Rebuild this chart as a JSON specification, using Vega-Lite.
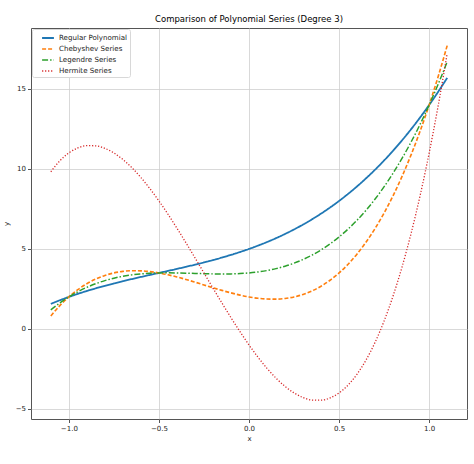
{
  "$schema": "https://vega.github.io/schema/vega-lite/v6.json",
  "width": 436,
  "height": 391,
  "autosize": {"type": "none"},
  "padding": {"left": 31, "top": 28, "right": 7, "bottom": 45},
  "background": "white",
  "title": {
    "text": "Comparison of Polynomial Series (Degree 3)",
    "font": "DejaVu Sans",
    "fontSize": 8.5,
    "fontWeight": "normal",
    "color": "#000000",
    "anchor": "middle",
    "offset": 5
  },
  "config": {
    "view": {"stroke": "#555555", "strokeWidth": 1},
    "axis": {
      "labelFont": "DejaVu Sans",
      "labelFontSize": 7,
      "labelColor": "#222222",
      "titleFont": "DejaVu Sans",
      "titleFontSize": 7,
      "titleFontWeight": "normal",
      "titleColor": "#222222",
      "domain": false,
      "tickColor": "#555555",
      "tickSize": 3.5,
      "labelPadding": 2,
      "grid": true,
      "gridColor": "#cfcfcf",
      "gridWidth": 0.8
    }
  },
  "data": {
    "values": [
      {"x": -1.10, "reg": 1.568, "cheb": 0.812, "leg": 1.190, "herm": 9.824},
      {"x": -1.05, "reg": 1.792, "cheb": 1.454, "leg": 1.623, "herm": 10.508},
      {"x": -1.00, "reg": 2.000, "cheb": 2.000, "leg": 2.000, "herm": 11.000},
      {"x": -0.95, "reg": 2.193, "cheb": 2.456, "leg": 2.324, "herm": 11.312},
      {"x": -0.90, "reg": 2.372, "cheb": 2.828, "leg": 2.600, "herm": 11.456},
      {"x": -0.85, "reg": 2.539, "cheb": 3.122, "leg": 2.831, "herm": 11.444},
      {"x": -0.80, "reg": 2.696, "cheb": 3.344, "leg": 3.020, "herm": 11.288},
      {"x": -0.75, "reg": 2.844, "cheb": 3.500, "leg": 3.172, "herm": 11.000},
      {"x": -0.70, "reg": 2.984, "cheb": 3.596, "leg": 3.290, "herm": 10.592},
      {"x": -0.65, "reg": 3.118, "cheb": 3.638, "leg": 3.378, "herm": 10.076},
      {"x": -0.60, "reg": 3.248, "cheb": 3.632, "leg": 3.440, "herm": 9.464},
      {"x": -0.55, "reg": 3.375, "cheb": 3.584, "leg": 3.479, "herm": 8.768},
      {"x": -0.50, "reg": 3.500, "cheb": 3.500, "leg": 3.500, "herm": 8.000},
      {"x": -0.45, "reg": 3.625, "cheb": 3.386, "leg": 3.506, "herm": 7.172},
      {"x": -0.40, "reg": 3.752, "cheb": 3.248, "leg": 3.500, "herm": 6.296},
      {"x": -0.35, "reg": 3.882, "cheb": 3.092, "leg": 3.487, "herm": 5.384},
      {"x": -0.30, "reg": 4.016, "cheb": 2.924, "leg": 3.470, "herm": 4.448},
      {"x": -0.25, "reg": 4.156, "cheb": 2.750, "leg": 3.453, "herm": 3.500},
      {"x": -0.20, "reg": 4.304, "cheb": 2.576, "leg": 3.440, "herm": 2.552},
      {"x": -0.15, "reg": 4.461, "cheb": 2.408, "leg": 3.434, "herm": 1.616},
      {"x": -0.10, "reg": 4.628, "cheb": 2.252, "leg": 3.440, "herm": 0.704},
      {"x": -0.05, "reg": 4.807, "cheb": 2.114, "leg": 3.461, "herm": -0.172},
      {"x": 0.00, "reg": 5.000, "cheb": 2.000, "leg": 3.500, "herm": -1.000},
      {"x": 0.05, "reg": 5.208, "cheb": 1.916, "leg": 3.562, "herm": -1.768},
      {"x": 0.10, "reg": 5.432, "cheb": 1.868, "leg": 3.650, "herm": -2.464},
      {"x": 0.15, "reg": 5.674, "cheb": 1.862, "leg": 3.768, "herm": -3.076},
      {"x": 0.20, "reg": 5.936, "cheb": 1.904, "leg": 3.920, "herm": -3.592},
      {"x": 0.25, "reg": 6.219, "cheb": 2.000, "leg": 4.109, "herm": -4.000},
      {"x": 0.30, "reg": 6.524, "cheb": 2.156, "leg": 4.340, "herm": -4.288},
      {"x": 0.35, "reg": 6.853, "cheb": 2.378, "leg": 4.616, "herm": -4.444},
      {"x": 0.40, "reg": 7.208, "cheb": 2.672, "leg": 4.940, "herm": -4.456},
      {"x": 0.45, "reg": 7.590, "cheb": 3.044, "leg": 5.317, "herm": -4.312},
      {"x": 0.50, "reg": 8.000, "cheb": 3.500, "leg": 5.750, "herm": -4.000},
      {"x": 0.55, "reg": 8.440, "cheb": 4.046, "leg": 6.243, "herm": -3.508},
      {"x": 0.60, "reg": 8.912, "cheb": 4.688, "leg": 6.800, "herm": -2.824},
      {"x": 0.65, "reg": 9.417, "cheb": 5.432, "leg": 7.424, "herm": -1.936},
      {"x": 0.70, "reg": 9.956, "cheb": 6.284, "leg": 8.120, "herm": -0.832},
      {"x": 0.75, "reg": 10.531, "cheb": 7.250, "leg": 8.891, "herm": 0.500},
      {"x": 0.80, "reg": 11.144, "cheb": 8.336, "leg": 9.740, "herm": 2.072},
      {"x": 0.85, "reg": 11.796, "cheb": 9.548, "leg": 10.672, "herm": 3.896},
      {"x": 0.90, "reg": 12.488, "cheb": 10.892, "leg": 11.690, "herm": 5.984},
      {"x": 0.95, "reg": 13.222, "cheb": 12.374, "leg": 12.798, "herm": 8.348},
      {"x": 1.00, "reg": 14.000, "cheb": 14.000, "leg": 14.000, "herm": 11.000},
      {"x": 1.05, "reg": 14.823, "cheb": 15.776, "leg": 15.299, "herm": 13.952},
      {"x": 1.10, "reg": 15.692, "cheb": 17.708, "leg": 16.700, "herm": 17.216}
    ]
  },
  "transform": [
    {"fold": ["reg", "cheb", "leg", "herm"], "as": ["series", "y"]}
  ],
  "mark": {"type": "line", "interpolate": "monotone", "clip": true},
  "encoding": {
    "x": {
      "field": "x",
      "type": "quantitative",
      "title": "x",
      "scale": {"domain": [-1.21, 1.21], "nice": false, "zero": false},
      "axis": {"values": [-1, -0.5, 0, 0.5, 1], "format": ".1f", "titlePadding": 3}
    },
    "y": {
      "field": "y",
      "type": "quantitative",
      "title": "y",
      "scale": {"domain": [-5.63, 18.81], "nice": false, "zero": false},
      "axis": {"values": [-5, 0, 5, 10, 15], "titlePadding": 6}
    },
    "color": {
      "field": "series",
      "type": "nominal",
      "scale": {
        "domain": ["reg", "cheb", "leg", "herm"],
        "range": ["#1f77b4", "#ff7f0e", "#2ca02c", "#d62728"]
      },
      "legend": {
        "title": null,
        "orient": "none",
        "legendX": 1,
        "legendY": 1,
        "labelExpr": "{'reg': 'Regular Polynomial', 'cheb': 'Chebyshev Series', 'leg': 'Legendre Series', 'herm': 'Hermite Series'}[datum.value]",
        "labelFont": "DejaVu Sans",
        "labelFontSize": 7.1,
        "labelColor": "#222222",
        "symbolType": "stroke",
        "symbolSize": 140,
        "symbolOffset": 7,
        "symbolStrokeWidth": 1.4,
        "rowPadding": -0.8,
        "labelOffset": 4,
        "fillColor": "white",
        "strokeColor": "#d8d8d8",
        "cornerRadius": 2,
        "padding": 2
      }
    },
    "strokeDash": {
      "field": "series",
      "type": "nominal",
      "scale": {
        "domain": ["reg", "cheb", "leg", "herm"],
        "range": [[1, 0], [4, 2], [6, 2, 1.5, 2], [1.2, 1.8]]
      },
      "legend": null
    },
    "strokeWidth": {
      "field": "series",
      "type": "nominal",
      "scale": {
        "domain": ["reg", "cheb", "leg", "herm"],
        "range": [1.8, 1.3, 1.3, 1.3]
      },
      "legend": null
    }
  }
}
